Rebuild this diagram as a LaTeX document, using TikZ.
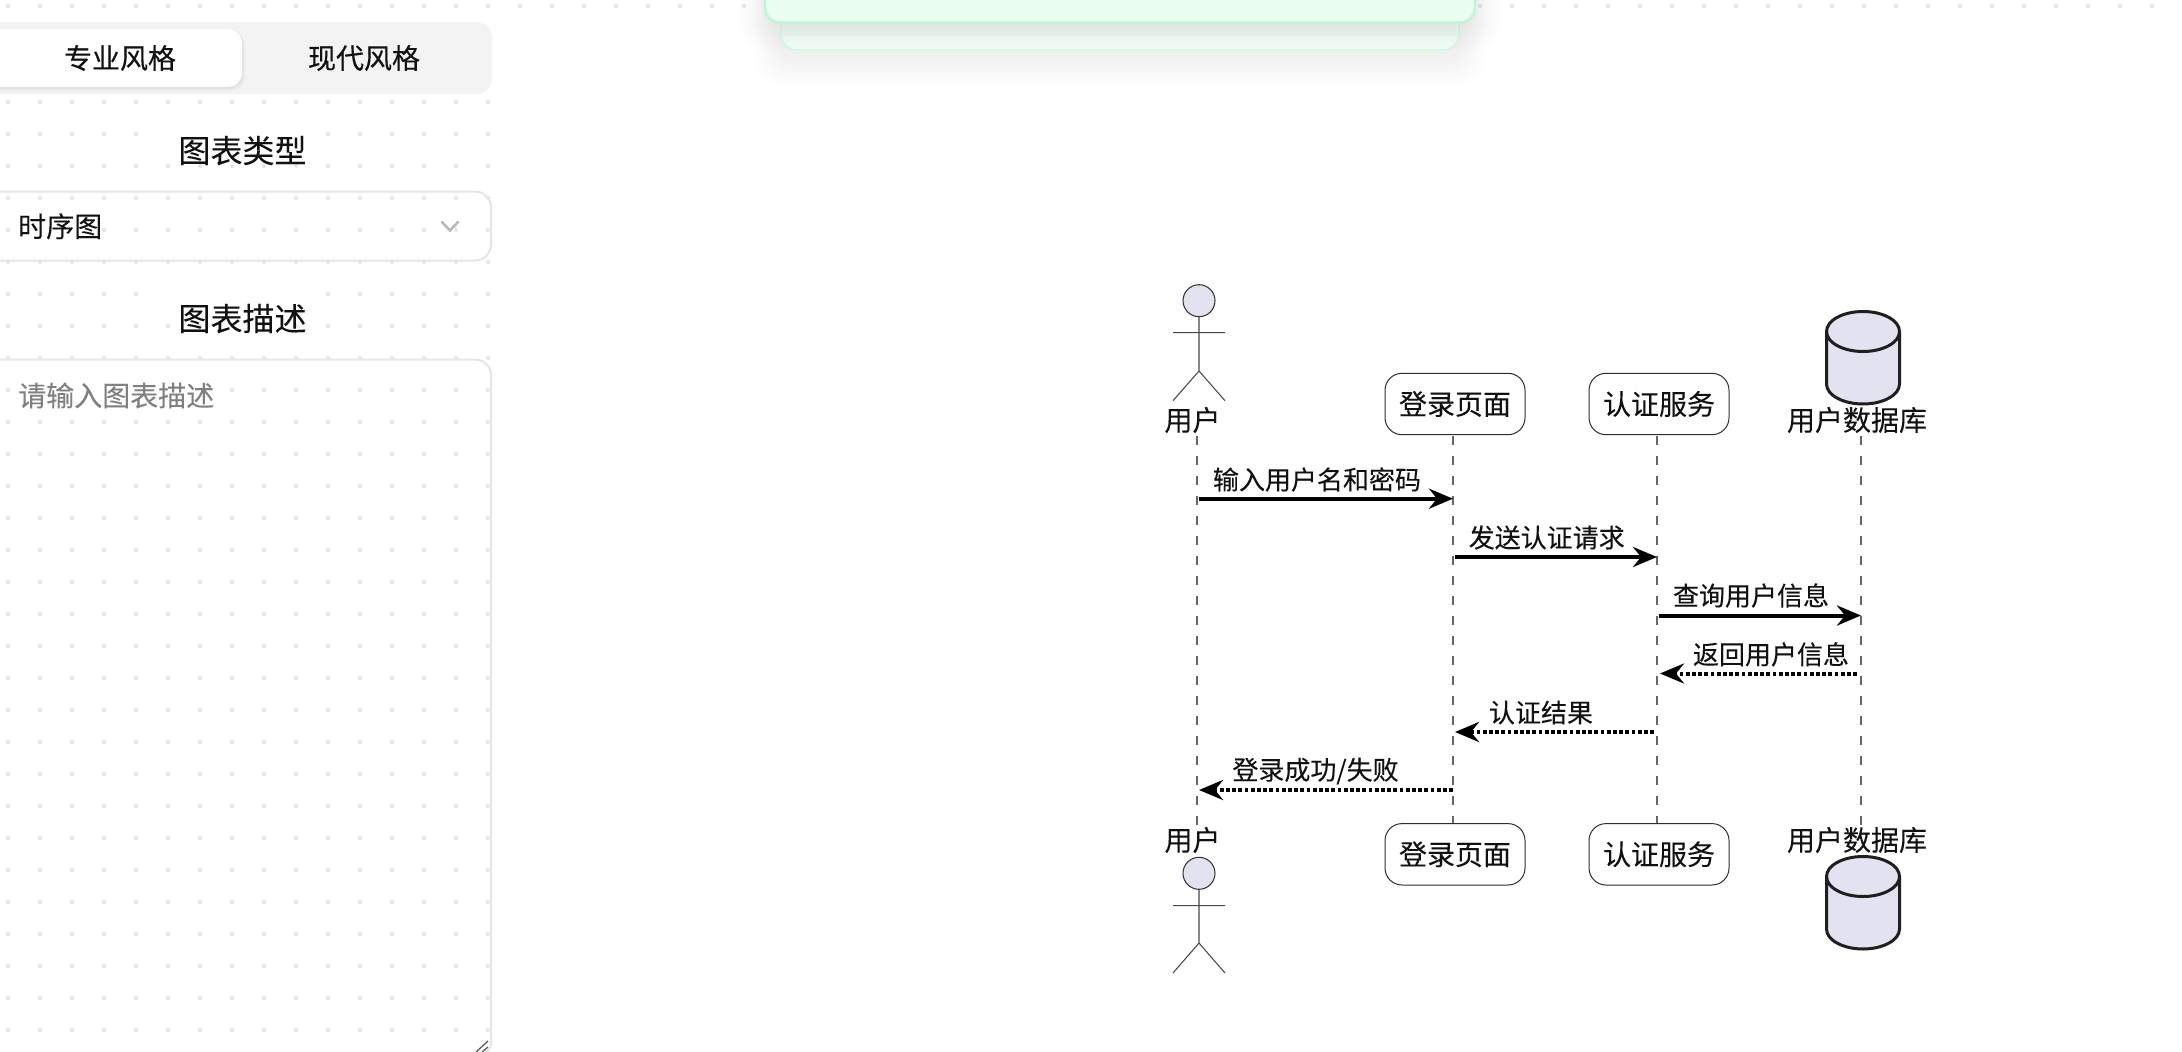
\documentclass[tikz,border=0pt]{standalone}
\usepackage{fontspec}
\setmainfont{Noto Sans CJK SC}
\newfontfamily\medfont[FakeBold=0.35]{Noto Sans CJK SC}
\newfontfamily\labelfont[FakeBold=0.12]{Noto Sans CJK SC}
\usetikzlibrary{arrows.meta}
\definecolor{dotc}{HTML}{E5E7EB}
\definecolor{panelc}{HTML}{F3F3F4}
\definecolor{fieldc}{HTML}{E6E6E6}
\definecolor{actorc}{HTML}{E2E2F0}
\definecolor{cardf}{HTML}{EBFEF2}
\definecolor{cardb}{HTML}{BBF7D0}
\definecolor{backf}{HTML}{F1FDF6}
\definecolor{backb}{HTML}{D6FBE4}
\definecolor{ink}{HTML}{111111}
\newcommand{\softshadow}[6]{% x1 y1 x2 y2 radius spread
  \foreach \k in {1,...,#6}{
    \fill[black,opacity=0.003,rounded corners={#5+1pt*(#6-\k)}]
      ({#1-(#6-\k)*2},{#2-(#6-\k)*2}) rectangle ({#3+(#6-\k)*2},{#4+(#6-\k)*2});
  }}
\tikzset{
  x=1pt,y=-1pt,
  gridmark/.style={fill=dotc,draw=none},
  lbl/.style={inner sep=0pt,font=\labelfont\fontsize{#1}{#1}\selectfont,text=ink},
  lbl/.default=28,
  fieldbox/.style={draw=fieldc,line width=2pt,fill=none,rounded corners=16pt},
  blank/.style={fill=white,draw=none},
  partbox/.style={draw=black!82,line width=1pt,fill=white,rounded corners=17pt,minimum width=140pt,minimum height=61.4pt,inner sep=0pt,font=\labelfont\fontsize{28}{28}\selectfont,text=ink},
  stickfig/.style={draw=black!72,line width=1.05pt},
  stickhead/.style={draw=black!80,line width=1.05pt,fill=actorc},
  dbshape/.style={draw=black!88,line width=3pt,fill=actorc},
  lifeline/.style={draw=black!60,line width=1.5pt,dash pattern=on 9pt off 11pt},
  msgsolid/.style={draw=black,line width=4pt,-{Stealth[length=24pt,width=20pt,inset=8pt]}},
  msgdot/.style={draw=black,line width=4pt,dash pattern=on 3.8pt off 2.4pt,-{Stealth[length=24pt,width=20pt,inset=8pt]}},
}
\begin{document}
\begin{tikzpicture}
\useasboundingbox (0,0) rectangle (2182,1052);
\clip (0,0) rectangle (2182,1052);
\fill[white] (0,0) rectangle (2182,1052);
% dot grid
\foreach \i in {0,...,67}{\fill[gridmark] ({8+32*\i},6) circle (2.1pt);}
\foreach \j in {1,...,32}{\foreach \i in {0,...,15}{\fill[gridmark] ({8+32*\i},{6+32*\j}) circle (2.1pt);}}
% stacked cards
\softshadow{781}{-20}{1459}{60}{15pt}{14}
\fill[backf] (781,-20) [rounded corners=15pt] rectangle (1459,50);
\draw[backb,line width=2pt,rounded corners=15pt] (781,-20) rectangle (1459,50);
\softshadow{765}{-20}{1475}{26}{15pt}{14}
\fill[black,opacity=0.025] (783,23) rectangle (1457,36);
\draw[cardb,line width=2.4pt,fill=cardf,rounded corners=15pt] (765,-20) rectangle (1475,22.5);
% style switch
\fill[panelc,rounded corners=16pt] (-30,22) rectangle (492,94);
\foreach \k in {1,...,5}{\fill[black,opacity=0.018,rounded corners=15pt] ({-20},{29+\k*0.4}) rectangle ({242+(5-\k)*0.8},{87+(5-\k)*1.1});}
\fill[white,rounded corners=14pt] (-20,29) rectangle (242,87);
\node[lbl,font=\medfont\fontsize{28}{28}\selectfont] (styleA) at (120,58) {专业风格};
\node[lbl,font=\medfont\fontsize{28}{28}\selectfont] (styleB) at (364,58) {现代风格};
% chart type
\fill[blank] (163,126) rectangle (312,163);
\node[lbl=32] (typeTitle) at (242.5,150.5) {图表类型};
\draw[fieldbox] (-30,191.5) rectangle (491,260.5);
\fill[blank] (36,225) rectangle (100,235);
\node[lbl,anchor=west] (typeValue) at (18,226.3) {时序图};
\draw[black!28,line width=2.6pt] (441.5,221.5) -- (450,230.5) -- (458.5,221.5);
% chart description
\fill[blank] (163,288) rectangle (312,323);
\node[lbl=32] (descTitle) at (242.5,318.5) {图表描述};
\draw[fieldbox] (-30,359.5) rectangle (491,1058);
\fill[blank] (36,383) rectangle (216,397);
\node[lbl,anchor=west,text=black!50] (descHint) at (18,395.5) {请输入图表描述};
\draw[black!60,line width=1.4pt] (476,1052) -- (488,1041) (482,1052) -- (488,1047);
% lifeline ends
\coordinate (la) at (1197,436);  \coordinate (lb) at (1197,826);
\coordinate (pa) at (1453,436);  \coordinate (pb) at (1453,824);
\coordinate (sa) at (1657,436);  \coordinate (sb) at (1657,824);
\coordinate (da) at (1861,436);  \coordinate (db) at (1861,826);
\draw[lifeline] (la) -- (lb);
\draw[lifeline] (pa) -- (pb);
\draw[lifeline] (sa) -- (sb);
\draw[lifeline] (da) -- (db);
% participants
\node[partbox] (pageTop) at (1455,404) {登录页面};
\node[partbox] (authTop) at (1659,404) {认证服务};
\node[partbox] (pageBot) at (1455,854.3) {登录页面};
\node[partbox] (authBot) at (1659,854.3) {认证服务};
% actors
\draw[stickfig] (1199,317) -- (1199,371) (1173,332.7) -- (1225,332.7) (1173,400.7) -- (1199,371) -- (1225,400.7);
\node[stickhead,circle,minimum size=32pt,inner sep=0pt] (userHeadTop) at (1199,300.7) {};
\node[lbl] (userTop) at (1192.5,420) {用户};
\draw[stickfig] (1199,889.5) -- (1199,943) (1173,905.7) -- (1225,905.7) (1173,973) -- (1199,943) -- (1225,973);
\node[stickhead,circle,minimum size=32pt,inner sep=0pt] (userHeadBot) at (1199,873.3) {};
\node[lbl] (userBot) at (1192.5,840) {用户};
% databases
\draw[dbshape] (1826.5,331.5) arc[start angle=180,end angle=0,x radius=36.5pt,y radius=20pt]
  -- (1899.5,384) arc[start angle=0,end angle=-180,x radius=36.5pt,y radius=20pt] -- cycle;
\draw[dbshape,fill=none] (1826.5,331.5) arc[start angle=180,end angle=360,x radius=36.5pt,y radius=20pt];
\node[lbl] (dbTop) at (1857,420) {用户数据库};
\draw[dbshape] (1826.5,876.5) arc[start angle=180,end angle=0,x radius=36.5pt,y radius=20pt]
  -- (1899.5,929) arc[start angle=0,end angle=-180,x radius=36.5pt,y radius=20pt] -- cycle;
\draw[dbshape,fill=none] (1826.5,876.5) arc[start angle=180,end angle=360,x radius=36.5pt,y radius=20pt];
\node[lbl] (dbBot) at (1857,840) {用户数据库};
% messages
\coordinate (m1a) at (1198.5,498.7); \coordinate (m1b) at (1453,498.7);
\coordinate (m2a) at (1455,557);     \coordinate (m2b) at (1657,557);
\coordinate (m3a) at (1659,615.5);   \coordinate (m3b) at (1861,615.5);
\coordinate (m4a) at (1857,673.5);   \coordinate (m4b) at (1660,673.5);
\coordinate (m5a) at (1654,732);     \coordinate (m5b) at (1455,732);
\coordinate (m6a) at (1453,790);     \coordinate (m6b) at (1199,790);
\draw[msgsolid] (m1a) -- (m1b);
\draw[msgsolid] (m2a) -- (m2b);
\draw[msgsolid] (m3a) -- (m3b);
\draw[msgdot] (m4a) -- (m4b);
\draw[msgdot] (m5a) -- (m5b);
\draw[msgdot] (m6a) -- (m6b);
\node[lbl=26] (t1) at (1317,479.5) {输入用户名和密码};
\node[lbl=26] (t2) at (1546.7,537.5) {发送认证请求};
\node[lbl=26] (t3) at (1751,595.5) {查询用户信息};
\node[lbl=26] (t4) at (1771,654.3) {返回用户信息};
\node[lbl=26] (t5) at (1541,712.5) {认证结果};
\node[lbl=26] (t6) at (1315.5,771) {登录成功/失败};
\end{tikzpicture}
\end{document}
